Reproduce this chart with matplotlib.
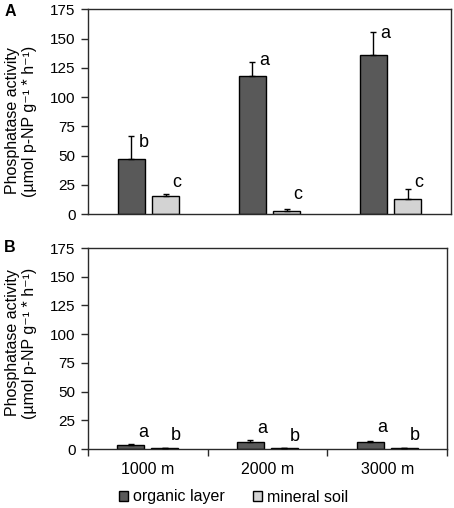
import numpy as np
import matplotlib
matplotlib.use('Agg')
from matplotlib import pyplot as plt
from matplotlib.patches import Patch

plt.rcParams['font.family'] = ['Liberation Sans', 'DejaVu Sans']

# data
sites = ['1000 m', '2000 m', '3000 m']
series = ['organic layer', 'mineral soil']

a_organic = [47, 118, 136]
a_organic_err = [20, 12, 20]
a_mineral = [15, 3, 13]
a_mineral_err = [2, 1, 8]
a_letters_org = ['b', 'a', 'a']
a_letters_min = ['c', 'c', 'c']
a_letter_y_org = [61, 131, 154]
a_letter_y_min = [27, 17, 27]

b_organic = [3.5, 6, 6]
b_organic_err = [1, 2.2, 1]
b_mineral = [0.5, 0.5, 1]
b_mineral_err = [0, 0, 0]
b_letters_org = ['a', 'a', 'a']
b_letters_min = ['b', 'b', 'b']
b_letter_y_org = [14, 18, 19]
b_letter_y_min = [12, 11, 12]

c_org = '#595959'
c_min = '#d3d3d3'
spine_c = '#2a2a2a'


def panel(ax, org, org_err, mn, mn_err, let_o, let_m, ly_o, ly_m, show_x):
    x = np.arange(len(sites))
    w = 0.225
    off = 0.142
    ax.bar(x - off, org, w, color=c_org, edgecolor='black', linewidth=1, zorder=2)
    ax.bar(x + off, mn, w, color=c_min, edgecolor='black', linewidth=1, zorder=2)
    ax.errorbar(x - off, org, yerr=[np.zeros(3), org_err], fmt='none',
                ecolor='black', elinewidth=1, capsize=2.5, capthick=1, zorder=3)
    ax.errorbar(x + off, mn, yerr=[np.zeros(3), mn_err], fmt='none',
                ecolor='black', elinewidth=1, capsize=2.5, capthick=1, zorder=3)
    for i in range(3):
        ax.text(x[i] - off + 0.1, ly_o[i], let_o[i], ha='center', va='center', fontsize=13)
        ax.text(x[i] + off + 0.09, ly_m[i], let_m[i], ha='center', va='center', fontsize=13)
    ax.set_xlim(-0.5, 2.5)
    ax.set_ylim(0, 175)
    ax.set_yticks(np.arange(0, 176, 25))
    ax.tick_params(axis='y', direction='out', length=5, width=1, color=spine_c,
                   labelsize=11, pad=4)
    for s in ax.spines.values():
        s.set_color(spine_c)
        s.set_linewidth(1)
    if show_x:
        ax.set_xticks(x)
        ax.set_xticklabels(sites, fontsize=11.5)
        ax.set_xticks([-0.5, 0.5, 1.5, 2.5], minor=True)
        ax.tick_params(axis='x', which='major', length=0, pad=9)
        ax.tick_params(axis='x', which='minor', direction='out', length=5, width=1,
                       color=spine_c)
    else:
        ax.set_xticks([])


fig = plt.figure(figsize=(4.54, 5.08), dpi=100)
axA = fig.add_axes([0.1938, 0.5787, 0.7996, 0.403])
axB = fig.add_axes([0.1938, 0.1161, 0.7907, 0.3957])

panel(axA, a_organic, a_organic_err, a_mineral, a_mineral_err,
      a_letters_org, a_letters_min, a_letter_y_org, a_letter_y_min, False)
panel(axB, b_organic, b_organic_err, b_mineral, b_mineral_err,
      b_letters_org, b_letters_min, b_letter_y_org, b_letter_y_min, True)

ylab = 'Phosphatase activity\n(µmol p-NP g\u207b\u00b9 * h\u207b\u00b9)'
fig.text(21 / 454, 1 - 121 / 508, ylab, rotation=90, ha='center', va='center',
         fontsize=11.5, linespacing=1.12, multialignment='center')
fig.text(21 / 454, 1 - 343 / 508, ylab, rotation=90, ha='center', va='center',
         fontsize=11.5, linespacing=1.12, multialignment='center')

fig.text(10 / 454, 1 - 12 / 508, 'A', ha='center', va='center', fontsize=11.5, fontweight='bold')
fig.text(10 / 454, 1 - 248 / 508, 'B', ha='center', va='center', fontsize=11.5, fontweight='bold')

handles = [Patch(facecolor=c_org, edgecolor='black', linewidth=1),
           Patch(facecolor=c_min, edgecolor='black', linewidth=1)]
fig.legend(handles, series, loc='center', bbox_to_anchor=(0.515, 1 - 497 / 508),
           ncol=2, frameon=False, fontsize=11.5, handlelength=0.55, handleheight=0.55,
           handletextpad=0.3, columnspacing=1.8, borderpad=0)

fig.savefig('out.png', dpi=100)
